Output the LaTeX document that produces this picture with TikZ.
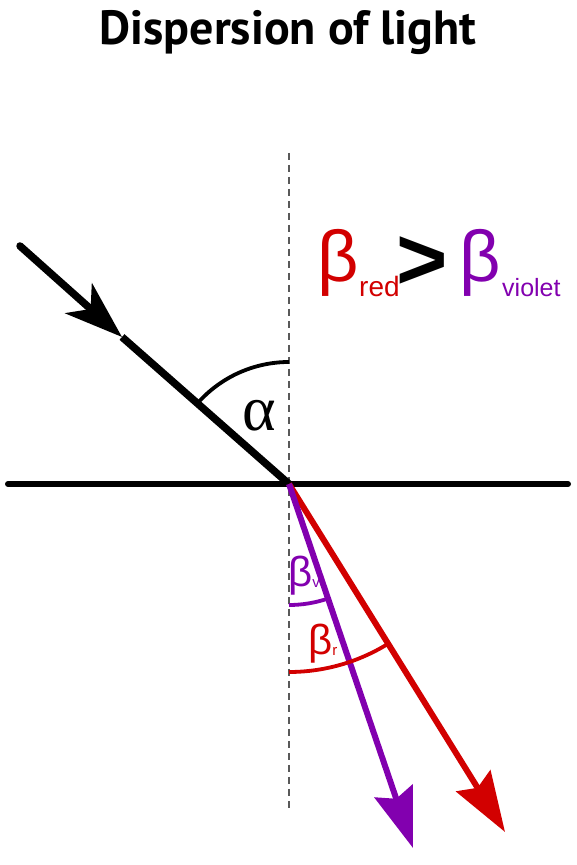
\documentclass[tikz,border=0pt]{standalone}
\usepackage{fontspec}
\setmainfont{Liberation Sans}
\newfontfamily\titlefont{PT Sans}
\newfontfamily\greekserif{Liberation Serif}
\usetikzlibrary{arrows.meta}
\definecolor{rayred}{RGB}{210,0,0}
\definecolor{rayviolet}{RGB}{130,0,175}
\tikzset{
  ray/.style={line width=6pt},
  anglearc/.style={line width=3.8pt},
  bighead/.style={-{Stealth[length=60pt,width=40pt,inset=8pt]}},
  lbl/.style={inner sep=0pt, anchor=base west}
}
\begin{document}
\begin{tikzpicture}[x=1pt,y=1pt]
\useasboundingbox (0,0) rectangle (576,865);
\coordinate (O) at (289,381);
\coordinate (S) at (20,619);
\coordinate (M) at (122,528);
\coordinate (HL) at (8,381);
\coordinate (HR) at (568,381);
\coordinate (DT) at (289,712);
\coordinate (DB) at (289,55);
\coordinate (V) at (413,17);
\coordinate (R) at (505,33);
% title
\node[inner sep=0pt] (title) at (288,832) {\titlefont\bfseries\fontsize{48}{48}\selectfont Dispersion of light};
% normal
\draw[gray!70!black, line width=1.6pt, dash pattern=on 7pt off 5pt] (DT) -- (DB);
% surface
\draw[line width=6pt, line cap=round] (HL) -- (HR);
% incident ray
\draw[line width=7.5pt, line cap=round, -{Stealth[length=58pt,width=40pt,inset=16pt]}] (S) -- (M);
\draw[line width=7.5pt] (M) -- (O);
% refracted rays
\draw[ray, rayred, bighead] (O) -- (R);
\draw[ray, rayviolet, bighead] (O) -- (V);
% angle arcs
\draw[anglearc] ([shift={(90:122)}]O) arc[start angle=90, end angle=138.5, radius=122];
\draw[anglearc, rayviolet] ([shift={(-90:121)}]O) arc[start angle=-90, end angle=-71.2, radius=121];
\draw[anglearc, rayred] ([shift={(-90:188)}]O) arc[start angle=-90, end angle=-58.2, radius=188];
% labels
\node[lbl] (alpha) at (242,434) {\greekserif\fontsize{64}{64}\selectfont α};
\node[lbl, rayviolet] (bv) at (288,278) {\fontsize{42}{42}\selectfont β\raisebox{-1pt}{\fontsize{15}{15}\selectfont v}};
\node[lbl, rayred] (br) at (308,210) {\fontsize{42}{42}\selectfont β\raisebox{-1pt}{\fontsize{15}{15}\selectfont r}};
\node[lbl, rayred] (bred) at (317,583) {\fontsize{72}{72}\selectfont β};
\node[lbl, rayred] (redtxt) at (359,568) {\fontsize{28}{28}\selectfont red};
\node[lbl] (gt) at (396,575) {\bfseries\fontsize{88}{88}\selectfont >};
\node[lbl, rayviolet] (bviol) at (459,583) {\fontsize{72}{72}\selectfont β};
\node[lbl, rayviolet] (violtxt) at (502,568) {\fontsize{25}{25}\selectfont violet};
\end{tikzpicture}
\end{document}
